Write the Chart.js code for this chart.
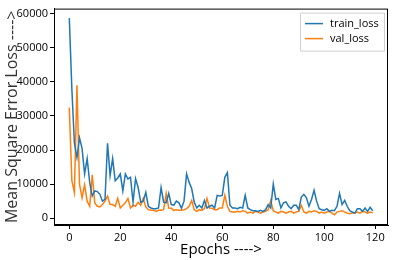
<!DOCTYPE html>
<html lang="en">
<head>
    <meta charset="UTF-8">
    <script src="https://cdn.jsdelivr.net/npm/chart.js"></script>
    <title>Loss</title>
    <style>
        html, body { margin: 0; padding: 0; background: #fff; }
        #box { width: 397px; height: 260px; }
    </style>
</head>
<body>
    <div id="box">
      <canvas id="grafico"></canvas>
    </div>

    <script>
        // valores (um valor por epoch)
        const trainLoss = [
          58700, 38000, 22000, 17800, 23600, 20500, 13000, 17500, 10500, 6500,
          8000, 7800, 7000, 5000, 5500, 22000, 12500, 17500, 11000, 11800,
          13000, 8000, 13000, 11500, 12000, 4700, 11600, 9000, 4700, 5000,
          7600, 3500, 3000, 2800, 2800, 3000, 9000, 4700, 4500, 7300,
          4000, 3800, 5000, 4500, 2900, 5000, 13000, 10500, 8700, 4700,
          3000, 3800, 3000, 5200, 3000, 3500, 3800, 3000, 6700, 6500,
          6700, 12000, 13400, 3800, 3000, 3000, 2800, 3200, 3000, 6700,
          3000, 2500, 2200, 2200, 2000, 2300, 2000, 2500, 4000, 3000,
          10000, 5500, 5800, 3000, 4500, 4800, 3500, 2800, 3800, 3800,
          2500, 6200, 7000, 6000, 3500, 5500, 8200, 5000, 2800, 2500,
          2300, 2800, 2000, 2300, 2200, 3500, 7300, 4000, 5200, 3500,
          2200, 1800, 1500, 2800, 2800, 2000, 3000, 2000, 3200, 2200
        ]
        const valLoss = [
          32500, 11000, 7500, 39000, 10000, 6000, 9800, 5000, 3500, 12700,
          4500, 3500, 3300, 4000, 5000, 6500, 4000, 4000, 3500, 5800,
          3000, 3800, 4500, 5800, 3000, 3800, 3500, 4700, 3800, 5800,
          3300, 2500, 2300, 2300, 2000, 2300, 2300, 2500, 7300, 3000,
          2900, 2300, 2500, 2300, 2300, 2500, 2800, 3500, 5200, 2500,
          2000, 2500, 2300, 2800, 5800, 3000, 2900, 2500, 2500, 3000,
          3000, 6700, 3500, 2000, 1800, 1800, 2000, 1800, 2200, 2000,
          1500, 1800, 1500, 2000, 1800, 1500, 1800, 2000, 2500, 5200,
          2200, 1800, 1500, 2000, 1800, 1500, 1800, 2000, 1500, 1800,
          2000, 3800, 1800, 1500, 2000, 1800, 2200, 2000, 1500, 1800,
          1500, 1800, 2000, 1500, 1000, 1800, 2000, 2200, 1800, 1500,
          1300, 1500, 1500, 1800, 1500, 2000, 1800, 1500, 1800, 1600
        ]
        const epochs = trainLoss.map((_, i) => i)
        const xTicks = [0, 20, 40, 60, 80, 100, 120]
        const yTicks = [0, 10000, 20000, 30000, 40000, 50000, 60000]
        const nomes = ['train_loss', 'val_loss']
        const cores = ['#1f77b4', '#ff7f0e']

        const fonte = "'Open Sans', 'DejaVu Sans', sans-serif"

        // moldura + legenda dentro do grafico (estilo matplotlib)
        const molduraLegenda = {
          id: 'molduraLegenda',
          afterDraw(chart) {
            const c = chart.ctx
            const a = chart.chartArea
            c.save()
            c.strokeStyle = '#000'
            c.lineWidth = 1
            c.strokeRect(a.left + 0.5, a.top + 0.5, a.right - a.left - 1, a.bottom - a.top - 1)

            const w = 84, h = 38
            const x0 = a.right - w - 4, y0 = a.top + 4
            c.fillStyle = 'rgba(255,255,255,0.8)'
            c.strokeStyle = '#d0d0d0'
            c.beginPath()
            c.rect(x0 + 0.5, y0 + 0.5, w, h)
            c.fill()
            c.stroke()
            c.font = '11px ' + fonte
            c.textBaseline = 'middle'
            nomes.forEach((n, i) => {
              const yy = y0 + 11 + i * 15
              c.strokeStyle = cores[i]
              c.lineWidth = 1.5
              c.beginPath()
              c.moveTo(x0 + 5, yy)
              c.lineTo(x0 + 23, yy)
              c.stroke()
              c.fillStyle = '#000'
              c.fillText(n, x0 + 30, yy)
            })
            c.restore()
          }
        }

        const ctx = document.getElementById('grafico')
        const grafico = new Chart(ctx, {
          type: 'line',
          data: {
            datasets: nomes.map((n, i) => ({
              label: n,
              data: (i === 0 ? trainLoss : valLoss).map((v, k) => ({ x: epochs[k], y: v })),
              borderColor: cores[i],
              borderWidth: 1.5,
              pointRadius: 0,
              tension: 0,
              fill: false
            }))
          },
          options: {
            responsive: true,
            maintainAspectRatio: false,
            animation: false,
            layout: { padding: { top: 8, right: 9, left: 0, bottom: 0 } },
            plugins: { legend: { display: false }, tooltip: { enabled: false } },
            scales: {
              x: {
                type: 'linear',
                min: -6,
                max: 125,
                afterBuildTicks: s => { s.ticks = xTicks.map(v => ({ value: v })) },
                afterFit: s => { s.height = 35 },
                grid: { drawOnChartArea: false, drawTicks: true, tickLength: 4, color: '#000' },
                border: { display: true, color: '#000' },
                ticks: { color: '#000', padding: 2, font: { family: fonte, size: 11 }, maxRotation: 0 },
                title: {
                  display: true, text: 'Epochs ---->', color: '#000',
                  font: { family: fonte, size: 15 }, padding: { top: 0, bottom: 1 }
                }
              },
              y: {
                min: -2000,
                max: 61500,
                afterBuildTicks: s => { s.ticks = yTicks.map(v => ({ value: v })) },
                afterFit: s => { s.width = 54 },
                grid: { drawOnChartArea: false, drawTicks: true, tickLength: 4, color: '#000' },
                border: { display: true, color: '#000' },
                ticks: { color: '#000', padding: 2, font: { family: fonte, size: 11 }, callback: v => String(v) },
                title: {
                  display: true, text: 'Mean Square Error Loss ---->', color: '#333',
                  font: { family: fonte, size: 16 }, padding: { top: 3, bottom: 0 }
                }
              }
            }
          },
          plugins: [molduraLegenda]
        })
      </script>
</body>
</html>
